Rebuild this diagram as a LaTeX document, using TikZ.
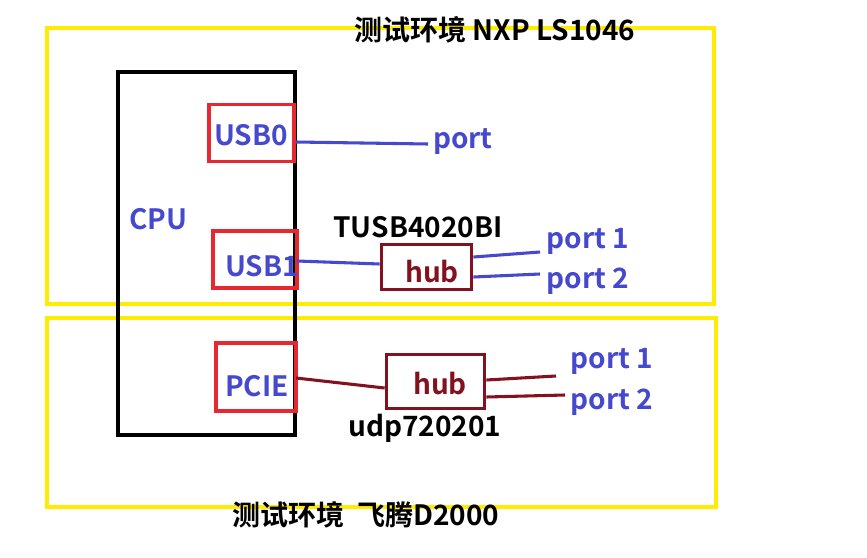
\documentclass[tikz,border=0pt]{standalone}
\usepackage{fontspec}
\setmainfont{Noto Sans CJK SC}[BoldFont={Noto Sans CJK SC Bold}]
\definecolor{yel}{RGB}{255,236,0}
\definecolor{blu}{RGB}{70,72,205}
\definecolor{rd}{RGB}{232,40,48}
\definecolor{drd}{RGB}{130,18,32}
\begin{document}
\begin{tikzpicture}[x=0.75pt,y=-0.75pt,
  env/.style={draw=yel,line width=2.8pt},
  port/.style={draw=rd,line width=2.6pt},
  hubb/.style={draw=drd,line width=2.3pt},
  txt/.style={font=\bfseries\fontsize{21}{25}\selectfont,inner sep=0pt},
  bl/.style={draw=blu,line width=2.3pt},
  dl/.style={draw=drd,line width=2.3pt}]
\useasboundingbox (0,0) rectangle (867,557);
\draw[env] (47,28) rectangle (714,304);
\draw[env] (47,318) rectangle (716,507);
\draw[line width=2.6pt] (118,72) rectangle (295,435);
\node[txt,text=blu] (cpu) at (158,219) {CPU};
\node[port,minimum width=64pt,minimum height=43pt,inner sep=0pt] (usb0) at (251.5,133) {};
\node[txt,text=blu] at (251,135) {USB0};
\node[port,minimum width=63pt,minimum height=43pt,inner sep=0pt] (usb1) at (255,259.5) {};
\node[txt,text=blu] at (262,266) {USB1};
\node[port,minimum width=60pt,minimum height=51pt,inner sep=0pt] (pcie) at (256,377) {};
\node[txt,text=blu] at (257,386) {PCIE};
\node[txt,text=blu] (p0) at (463,142) {port};
\coordinate (p0e) at (428,144);
\draw[bl] (usb0.east) ++(0,9) -- (p0e);
\node[txt] (tusb) at (418,227) {TUSB4020BI};
\node[hubb,minimum width=68pt,minimum height=34pt,inner sep=0pt] (hub1) at (426.5,267) {};
\node[txt,text=drd] at (432,272) {hub};
\draw[bl] (297,261) -- (hub1.west |- 0,264);
\node[txt,text=blu] (p11) at (588,241) {port 1};
\node[txt,text=blu] (p12) at (588,281) {port 2};
\coordinate (a1) at (540,252); \coordinate (a2) at (540,274);
\draw[bl] (hub1.east |- 0,257) -- (a1);
\draw[bl] (hub1.east |- 0,277) -- (a2);
\node[hubb,minimum width=74pt,minimum height=40pt,inner sep=0pt] (hub2) at (435.5,381.5) {};
\node[txt,text=drd] at (440,384) {hub};
\draw[dl] (296,378) -- (hub2.west |- 0,388);
\node[txt,text=blu] (p21) at (612,361) {port 1};
\node[txt,text=blu] (p22) at (612,402) {port 2};
\coordinate (b1) at (556,376); \coordinate (b2) at (565,395);
\draw[dl] (hub2.east |- 0,380) -- (b1);
\draw[dl] (hub2.east |- 0,397) -- (b2);
\node[txt] (udp) at (425,428) {udp720201};
\node[txt] (t1) at (495,30) {测试环境 NXP LS1046};
\node[txt] (t2) at (366,515) {测试环境\ \ 飞腾D2000};
\end{tikzpicture}
\end{document}
